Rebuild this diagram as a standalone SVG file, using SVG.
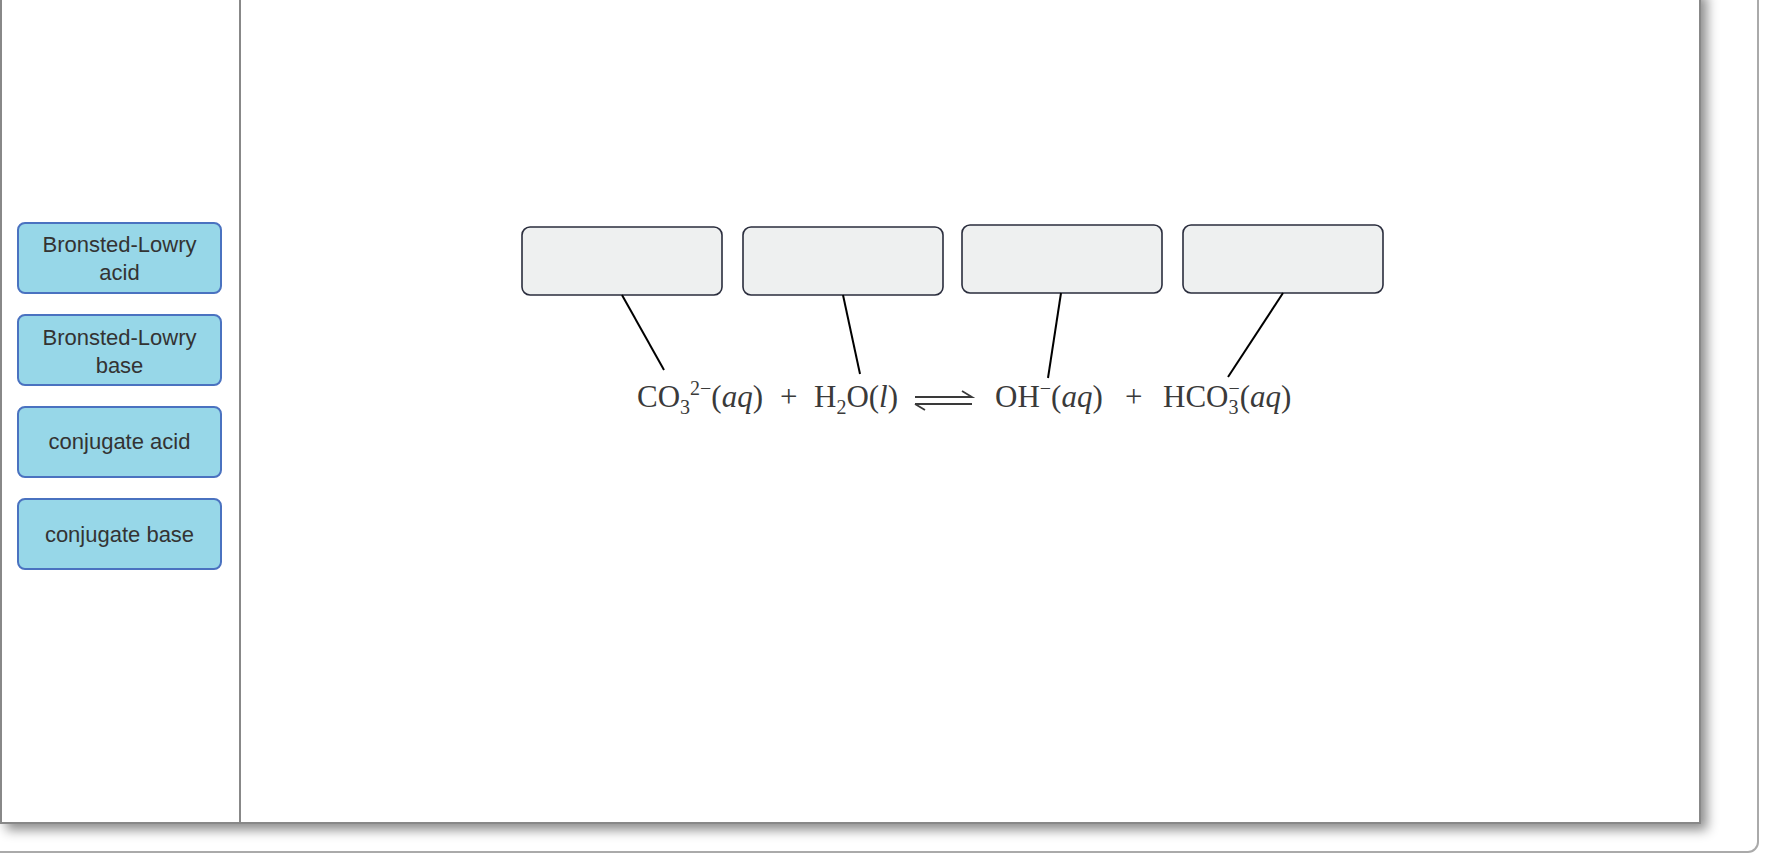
<svg xmlns="http://www.w3.org/2000/svg" width="1774" height="860" viewBox="0 0 1774 860">
<defs>
<filter id="sh" x="-5%" y="-5%" width="112%" height="115%"><feDropShadow dx="6" dy="6" stdDeviation="6" flood-color="#000" flood-opacity="0.45"/></filter>
<style>
.card{fill:#97d7e8;stroke:#4a72c0;stroke-width:2}
.ct{font-family:"Liberation Sans",Arial,sans-serif;font-size:22px;fill:#333;text-anchor:middle}
.blank{fill:#eef0f0;stroke:#2a2d3d;stroke-width:1.6}
.eq{font-family:"Liberation Serif","Times New Roman",serif;font-size:31px;fill:#3a3a3a}
.sm{font-size:20px}
.conn line{stroke:#000;stroke-width:2}
</style>
</defs>
<rect width="1774" height="860" fill="#fff"/>
<rect x="-10" y="-20" width="1768" height="872" rx="10" fill="#fff" stroke="#aaa" stroke-width="2"/>
<rect x="1" y="-10" width="1699" height="833" fill="#fff" stroke="#888" stroke-width="2" filter="url(#sh)"/>
<line x1="240" y1="0" x2="240" y2="823" stroke="#888" stroke-width="2"/>
<g id="card1"><rect class="card" x="18" y="223" width="203" height="70" rx="7"/><text class="ct" x="119.500" y="252">Bronsted-Lowry</text><text class="ct" x="119.500" y="280">acid</text></g>
<g id="card2"><rect class="card" x="18" y="315" width="203" height="70" rx="7"/><text class="ct" x="119.500" y="345">Bronsted-Lowry</text><text class="ct" x="119.500" y="373">base</text></g>
<g id="card3"><rect class="card" x="18" y="407" width="203" height="70" rx="7"/><text class="ct" x="119.500" y="449">conjugate acid</text></g>
<g id="card4"><rect class="card" x="18" y="499" width="203" height="70" rx="7"/><text class="ct" x="119.500" y="542">conjugate base</text></g>
<g id="box1"><rect class="blank" x="522" y="227" width="200" height="68" rx="8"/></g>
<g id="box2"><rect class="blank" x="743" y="227" width="200" height="68" rx="8"/></g>
<g id="box3"><rect class="blank" x="962" y="225" width="200" height="68" rx="8"/></g>
<g id="box4"><rect class="blank" x="1183" y="225" width="200" height="68" rx="8"/></g>
<g class="conn">
<line x1="622" y1="295" x2="664" y2="370"/>
<line x1="843" y1="295" x2="860" y2="374"/>
<line x1="1061" y1="293" x2="1048" y2="378"/>
<line x1="1283" y1="293" x2="1228" y2="377"/>
</g>
<g id="equation">
<text class="eq" y="407"><tspan x="637">CO</tspan><tspan class="sm" dy="7">3</tspan><tspan class="sm" dy="-19">2−</tspan><tspan dy="12">(</tspan><tspan font-style="italic">aq</tspan><tspan>)</tspan></text>
<text class="eq" x="780" y="407">+</text>
<text class="eq" y="407"><tspan x="814">H</tspan><tspan class="sm" dy="7">2</tspan><tspan dy="-7">O(</tspan><tspan font-style="italic">l</tspan><tspan>)</tspan></text>
<path d="M915 397H972L962 391M915 404H972M915 404L925 410" fill="none" stroke="#3a3a3a" stroke-width="1.8"/>
<text class="eq" y="407"><tspan x="995">OH</tspan><tspan class="sm" dy="-12">−</tspan><tspan dy="12">(</tspan><tspan font-style="italic">aq</tspan><tspan>)</tspan></text>
<text class="eq" x="1125" y="407">+</text>
<text class="eq" y="407"><tspan x="1163">HCO</tspan><tspan class="sm" dy="7">3</tspan><tspan class="sm" dx="-10" dy="-19">−</tspan><tspan dy="12">(</tspan><tspan font-style="italic">aq</tspan><tspan>)</tspan></text>
</g>
</svg>
